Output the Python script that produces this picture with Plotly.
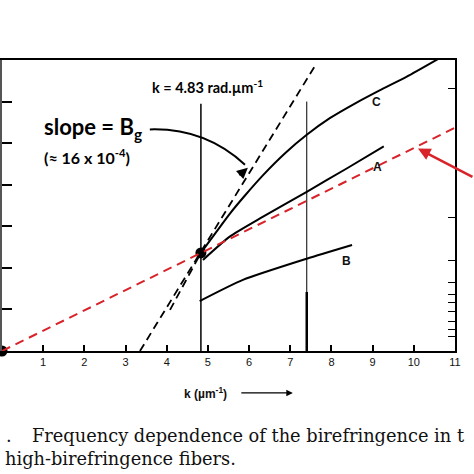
import plotly.graph_objects as go

# curves (k in um^-1, y in axis units 0..7)
c_k = [4.83, 5.2, 5.53, 5.9, 6.34, 6.9, 7.4, 7.96, 8.6, 9.17, 9.83, 10.6]
c_y = [2.36, 2.86, 3.3, 3.74, 4.23, 4.78, 5.2, 5.6, 5.97, 6.27, 6.6, 7.03]
a_k = [4.88, 5.53, 6.34, 7.4, 8.37, 9.27]
a_y = [2.19, 2.75, 3.23, 3.83, 4.39, 4.92]
b_k = [4.8, 5.85, 7.4, 8.5]
b_y = [1.2, 1.71, 2.22, 2.55]

# straight construction lines
tangent_k = [3.35, 7.62]
tangent_y = [0.0, 6.89]
extrap_k = [4.08, 4.83]
extrap_y = [0.99, 2.36]
red_k = [0.0, 11.0]
red_y = [0.0, 5.37]
dots_k = [0.0, 4.83]
dots_y = [0.0, 2.36]

# vertical markers
vline1_k = [4.83, 4.83]
vline1_y = [0.0, 5.95]
vline2_k = [7.4, 7.4]
vline2_y = [0.0, 6.0]
vline2_thick_y = [0.0, 1.42]

x_ticks = [0, 1, 2, 3, 4, 5, 6, 7, 8, 9, 10, 11]
left_ticks = [1, 2, 3, 4, 5, 6]
right_ticks = [6.31, 3.2, 2.17, 1.64, 1.37, 1.16, 0.96, 0.72, 0.51, 0.34]

RED = '#d8232a'


def line(k, y, width=2, dash='solid', color='black', yaxis='y', shape='linear'):
    return go.Scatter(x=k, y=y, mode='lines', yaxis=yaxis,
                      line=dict(color=color, width=width, dash=dash, shape=shape, smoothing=0.6),
                      hoverinfo='skip', showlegend=False)


fig = go.Figure()
fig.add_trace(line(red_k, red_y, width=2, dash='9px,6px', color=RED, yaxis='y2'))
fig.add_trace(line(vline1_k, vline1_y, width=1.5))
fig.add_trace(line(vline2_k, vline2_y, width=1))
fig.add_trace(line(vline2_k, vline2_thick_y, width=2.5))
fig.add_trace(line(tangent_k, tangent_y, width=1.8, dash='8px,5px'))
fig.add_trace(line(extrap_k, extrap_y, width=1.8, dash='8px,5px'))
fig.add_trace(line(c_k, c_y, shape='spline'))
fig.add_trace(line(a_k, a_y, shape='spline'))
fig.add_trace(line(b_k, b_y, shape='spline'))
fig.add_trace(go.Scatter(x=dots_k, y=dots_y, mode='markers', cliponaxis=False,
                         marker=dict(color='black', size=11), hoverinfo='skip', showlegend=False))

# curved pointer from the "slope" label to the tangent line
fig.add_shape(type='path', xref='x', yref='y', path='M 3.59 5.33 Q 4.93 5.37 5.9 4.48',
              line=dict(color='black', width=2))

bold = dict(family='Lato', color='black')
sans = dict(family='Liberation Sans', color='#111')
serif = dict(family='DejaVu Serif', color='#111', size=17.8)

annotations = [
    dict(x=5.97, y=4.41, ax=-10, ay=9, text='', showarrow=True, arrowhead=2,
         arrowsize=1.1, arrowwidth=2, arrowcolor='black'),
    dict(x=10.1, y=4.87, ax=56, ay=29, text='', showarrow=True, arrowhead=2,
         arrowsize=1, arrowwidth=2.5, arrowcolor=RED),
    dict(x=5.0, y=6.36, text='<b>k = 4.83 rad.µm<sup>-1</sup></b>', font=dict(size=14.5, **bold)),
    dict(x=0.97, y=5.37, xanchor='left', text='<b>slope = B<sub>g</sub></b>', font=dict(size=22, **bold)),
    dict(x=0.97, y=4.67, xanchor='left', text='<b>(≈ 16 x 10<sup>-4</sup>)</b>', font=dict(size=16, **bold)),
    dict(x=9.1, y=5.98, text='<b>C</b>', font=dict(size=12, **sans)),
    dict(x=9.13, y=4.43, text='<b>A</b>', font=dict(size=12, **sans)),
    dict(x=8.37, y=2.17, text='<b>B</b>', font=dict(size=12, **sans)),
    dict(xref='paper', yref='paper', x=0.45, y=-0.144, text='<b>k (µm<sup>-1</sup>)</b>',
         font=dict(size=12, **sans)),
    dict(xref='paper', yref='paper', x=0.642, y=-0.144, ax=-53, ay=0, text='', showarrow=True,
         arrowhead=2, arrowsize=1, arrowwidth=1.3, arrowcolor='black'),
    dict(xref='paper', yref='paper', x=0.004, y=-0.289, xanchor='left', text='.', font=serif),
    # caption is cropped at the right edge in the source image
    dict(xref='paper', yref='paper', x=0.062, y=-0.289, xanchor='left',
         text='Frequency dependence of the birefringence in t', font=serif),
    dict(xref='paper', yref='paper', x=0.002, y=-0.368, xanchor='left',
         text='high-birefringence fibers.', font=serif),
]
for a in annotations:
    a.setdefault('xref', 'x')
    a.setdefault('yref', 'y')
    a.setdefault('xanchor', 'center')
    a.setdefault('yanchor', 'middle')
    a.setdefault('showarrow', False)
    fig.add_annotation(**a)

fig.update_layout(
    width=474, height=474,
    margin=dict(l=2, r=19, t=60, b=123),
    paper_bgcolor='white', plot_bgcolor='white',
    xaxis=dict(range=[0, 11], tickvals=x_ticks, ticks='inside', ticklen=6, tickwidth=1.5,
               tickcolor='black', showline=True, linecolor='black', linewidth=1.5, mirror=True,
               showgrid=False, zeroline=False, tickfont=dict(size=11, **sans)),
    yaxis=dict(range=[0, 7], tickvals=left_ticks, ticks='inside', ticklen=10, tickwidth=1.5,
               tickcolor='black', showticklabels=False, showline=True, linecolor='#555',
               linewidth=2, showgrid=False, zeroline=False),
    yaxis2=dict(range=[0, 7], overlaying='y', side='right', tickvals=right_ticks,
                ticks='inside', ticklen=7, tickwidth=1.2, tickcolor='black',
                showticklabels=False, showline=True, linecolor='black', linewidth=1.5,
                showgrid=False, zeroline=False),
)

# drop the browser's default body margin so the figure sits at the page corner
fig.write_html("out.html", config={'displayModeBar': False},
               post_script="document.body.style.margin='0px';")
